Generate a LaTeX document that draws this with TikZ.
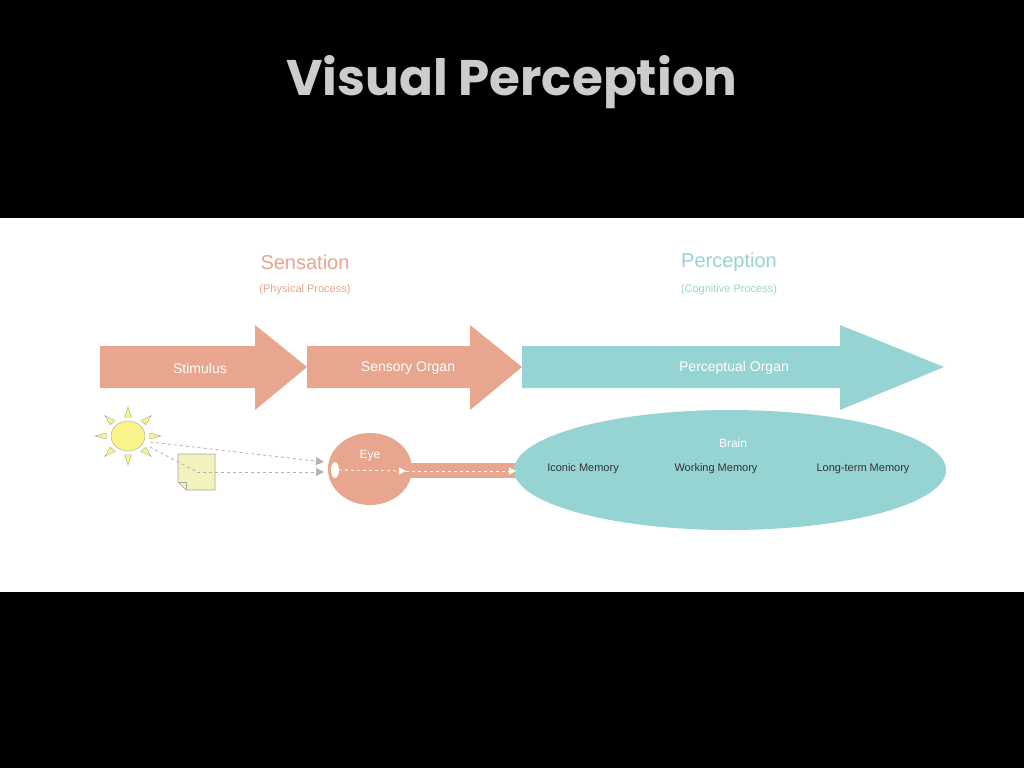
\documentclass[tikz,border=0pt]{standalone}
\usepackage{fontspec}
\setmainfont{Liberation Sans}
\newfontfamily\titlefont{Poppins}
\usetikzlibrary{shapes.geometric,arrows.meta}
\definecolor{salmon}{HTML}{E8A68E}
\definecolor{teal}{HTML}{96D3D3}
\definecolor{sunY}{HTML}{F8F48A}
\definecolor{noteY}{HTML}{F2F2BC}
\tikzset{
 wlab/.style={text=white,font=\fontsize{14}{16}\selectfont},
 mem/.style={text=black!80,font=\fontsize{11}{13}\selectfont},
 gdash/.style={draw=black!30,dashed,line width=0.8pt},
 gtip/.style={-{Triangle[length=8pt,width=8pt,fill=black!30]}},
}
\begin{document}
\begin{tikzpicture}[x=1pt,y=-1pt]
\fill[black] (0,0) rectangle (1024,768);
\useasboundingbox (0,0) rectangle (1024,768);
\fill[white] (0,218) rectangle (1024,592);
\node[text=black!20,font=\titlefont\bfseries\fontsize{50}{56}\selectfont] (title) at (512,82) {Visual Perception};
\node[text=salmon,font=\fontsize{20}{24}\selectfont] (sens) at (305,262) {Sensation};
\node[text=salmon,font=\fontsize{11}{13}\selectfont] (phys) at (305,290) {(Physical Process)};
\node[text=teal,font=\fontsize{20}{24}\selectfont] (perc) at (729,262) {Perception};
\node[text=teal,font=\fontsize{11}{13}\selectfont] (cog) at (729,290) {(Cognitive Process)};
% big arrows
\fill[salmon] (100,346) -- (255,346) -- (255,325) -- (307,367) -- (255,410) -- (255,388) -- (100,388) -- cycle;
\fill[salmon] (307,346) -- (470,346) -- (470,325) -- (522,367) -- (470,410) -- (470,388) -- (307,388) -- cycle;
\fill[teal] (522,346) -- (840,346) -- (840,325) -- (944,367) -- (840,410) -- (840,388) -- (522,388) -- cycle;
\node[wlab] (stim) at (200,368) {Stimulus};
\node[wlab] (sorg) at (408,368) {Sensory Organ};
\node[wlab] (porg) at (734,368) {Perceptual Organ};
% sun
\foreach \a in {0,45,...,315}{
 \fill[sunY,draw=black!35,line width=0.4pt] ({128+22*cos(\a-9)},{436+19*sin(\a-9)}) -- ({128+33*cos(\a)},{436+29*sin(\a)}) -- ({128+22*cos(\a+9)},{436+19*sin(\a+9)}) -- cycle;
}
\node[ellipse,fill=sunY,draw=black!35,line width=0.4pt,minimum width=34pt,minimum height=30pt,inner sep=0] (sun) at (128,436) {};
% note
\fill[noteY,draw=black!35,line width=0.6pt] (178,454) -- (215,454) -- (215,490) -- (186,490) -- (178,482) -- cycle;
\draw[black!35,line width=0.6pt] (178,482) -- (186,482) -- (186,490);
\coordinate (notec) at (197,472);
% eye
\node[ellipse,fill=salmon,minimum width=84pt,minimum height=72pt,inner sep=0] (eye) at (370,469) {};
\fill[salmon] (404,463) rectangle (520,478);
\node[ellipse,fill=white,minimum width=8pt,minimum height=16pt,inner sep=0] (pupil) at (335,470) {};
\node[text=white,font=\fontsize{12}{14}\selectfont] (eyel) at (370,456) {Eye};
% brain
\node[ellipse,fill=teal,minimum width=432pt,minimum height=120pt,inner sep=0] (brain) at (730,470) {};
\node[text=white,font=\fontsize{12}{14}\selectfont] (brainl) at (733,443) {Brain};
\node[mem] (icon) at (583,469) {Iconic Memory};
\node[mem] (work) at (716,469) {Working Memory};
\node[mem] (long) at (863,469) {Long-term Memory};
% connectors
\coordinate (t1) at (324,462);
\coordinate (t2) at (324,472);
\coordinate (nv) at (406,471);
\coordinate (br) at (516,471);
\draw[gdash,gtip] (150,442) -- (t1);
\draw[gdash] (150,447) -- (notec);
\draw[gdash,gtip] (notec) -- (t2);
\draw[white,dashed,line width=0.8pt,-{Triangle[length=7pt,width=7pt]}] (pupil.east) -- (nv);
\draw[white,dashed,line width=0.8pt,-{Triangle[length=7pt,width=7pt]}] (nv) -- (br);
\end{tikzpicture}
\end{document}
